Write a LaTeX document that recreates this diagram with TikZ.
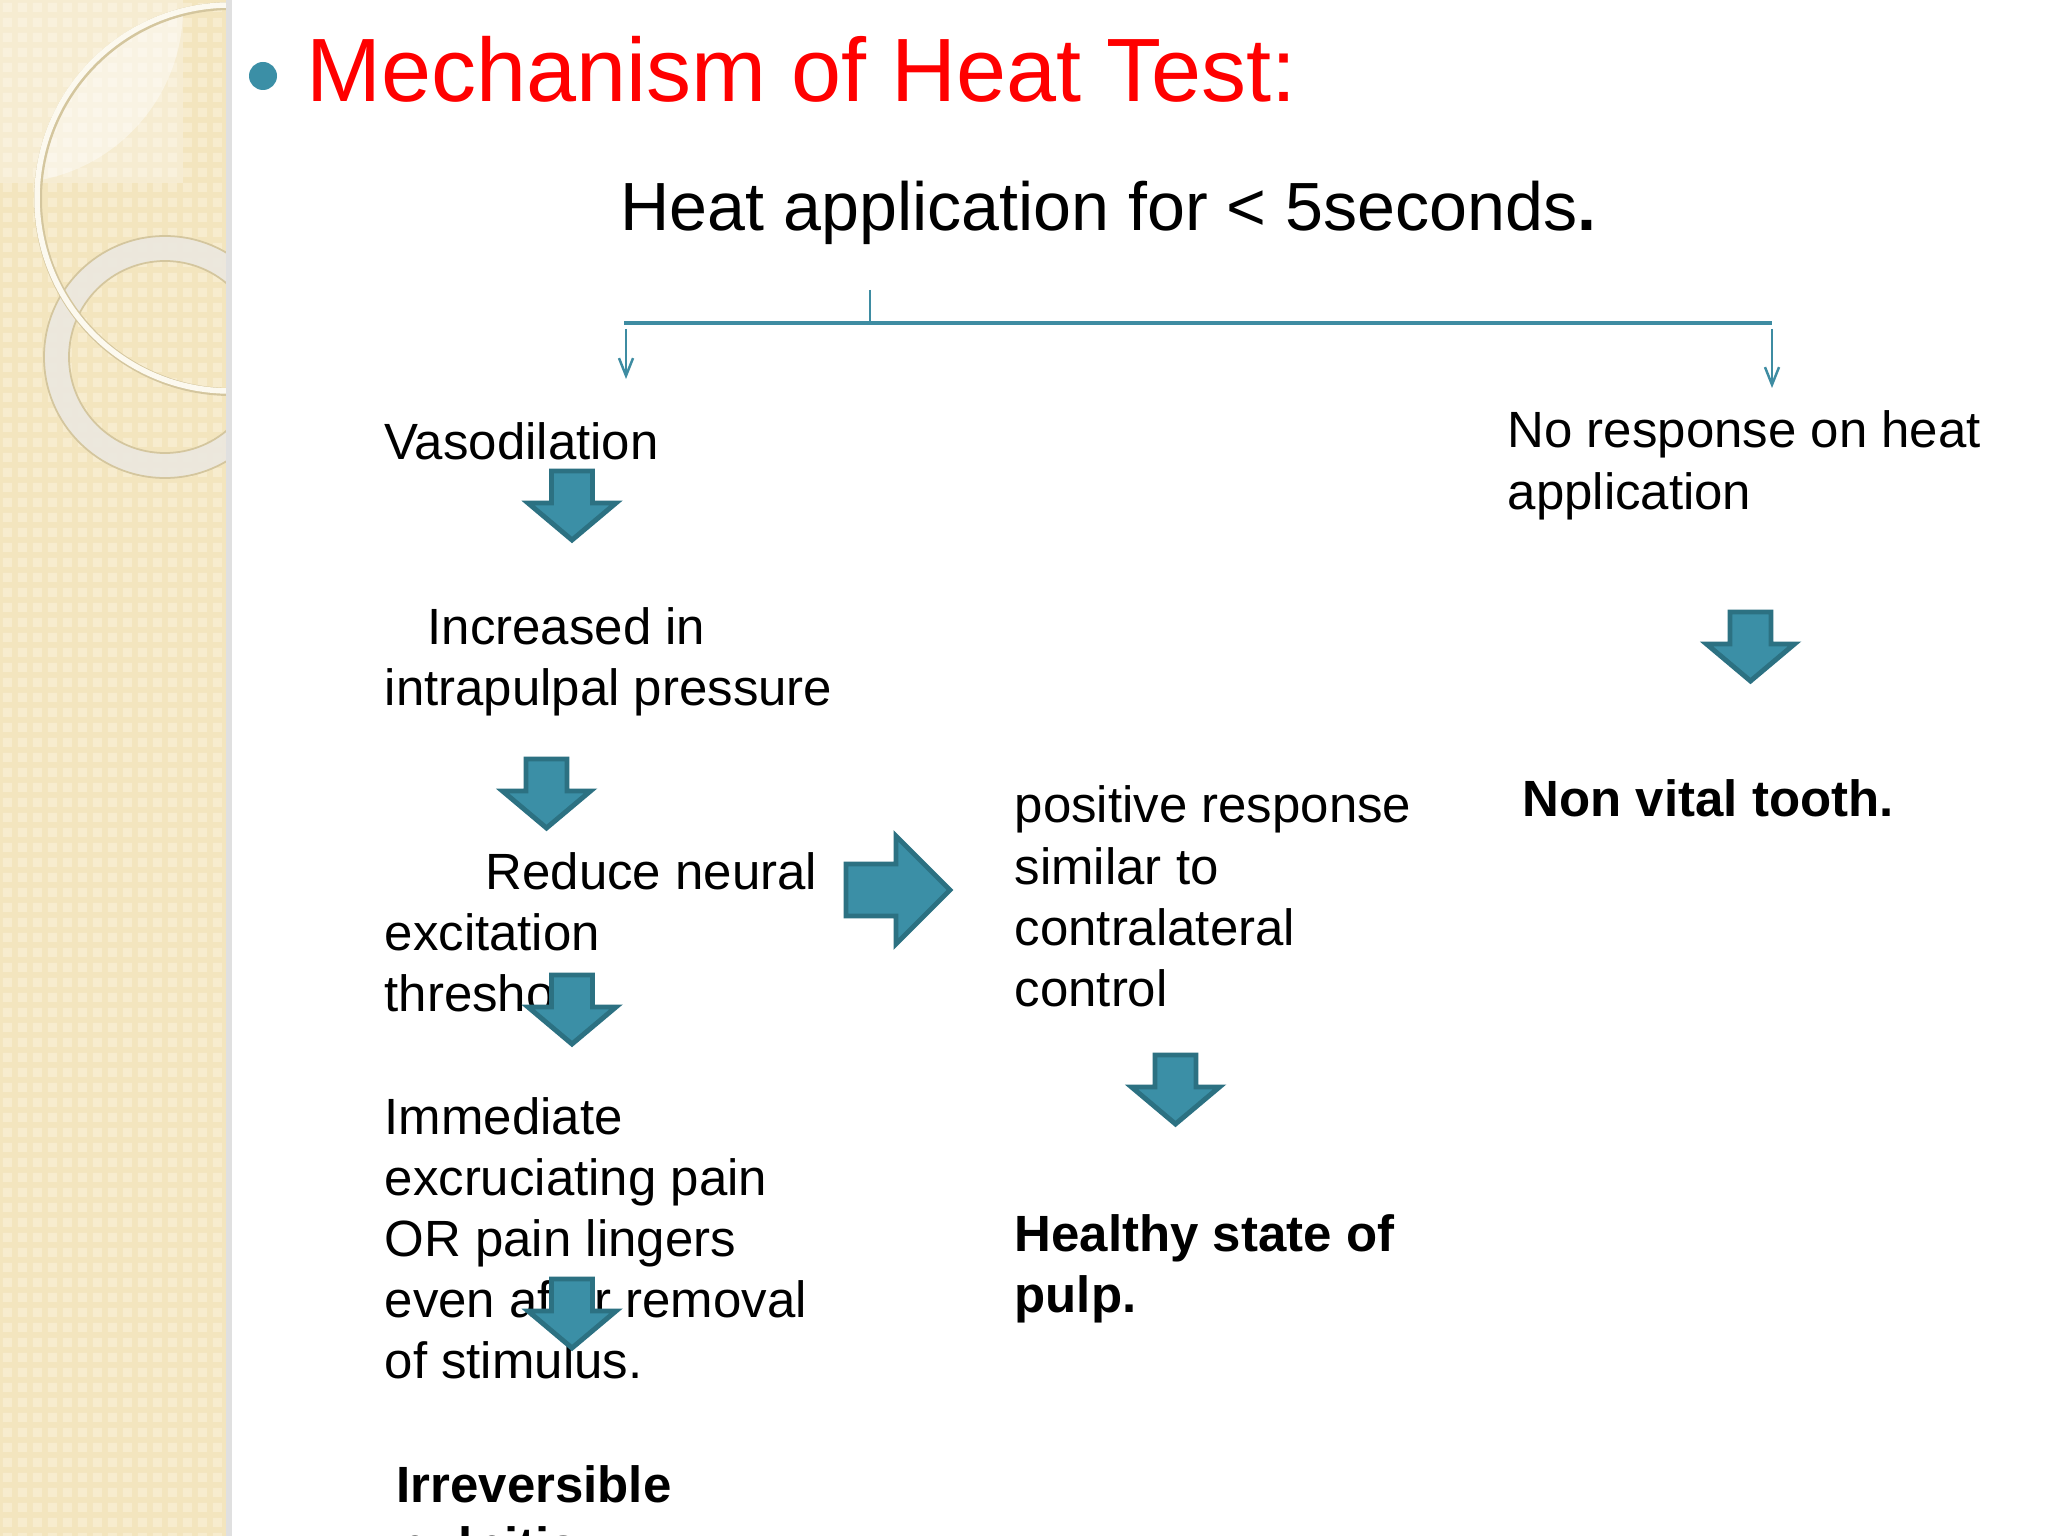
\documentclass[tikz,border=0pt]{standalone}
\usepackage{fontspec}
\setmainfont{Liberation Sans}
\usetikzlibrary{arrows.meta}
\definecolor{myteal}{RGB}{59,143,166}
\definecolor{mydark}{RGB}{44,113,130}
\definecolor{myline}{RGB}{62,140,162}
\definecolor{mysand}{RGB}{243,229,190}
\definecolor{mysandlt}{RGB}{247,236,206}
\definecolor{myring}{RGB}{236,232,222}
\definecolor{myedge}{RGB}{212,198,158}
\newcommand\mytxt[1]{%
  \parbox[t]{8cm}{\raggedright\fontsize{14.5}{17.4}\selectfont #1}%
}

\begin{document}
\begin{tikzpicture}[x=1cm,y=1cm,>={Straight Barb[length=5pt,width=4pt]}]
  \useasboundingbox (0,0) rectangle (20.48,-15.36);
  \fill[white] (0,0) rectangle (20.48,-15.36);

  \tikzstyle{txt}=[anchor=base west,inner sep=0pt]
  \tikzstyle{conn}=[myline,line width=0.7pt]
  \tikzstyle{blockarrow}=[fill=myteal,draw=mydark,line width=1.4pt,line join=miter]
  \tikzset{
    downarr/.pic={\path[blockarrow] (-0.205,-0.02) -- (0.205,-0.02) -- (0.205,-0.34)
      -- (0.44,-0.34) -- (0,-0.71) -- (-0.44,-0.34) -- (-0.205,-0.34) -- cycle;},
    rightarr/.pic={\path[blockarrow] (0.02,0.26) -- (0.52,0.26) -- (0.52,0.54)
      -- (1.06,0) -- (0.52,-0.54) -- (0.52,-0.26) -- (0.02,-0.26) -- cycle;}
  }

  % side bar
  \begin{scope}
    \clip (0,0) rectangle (2.26,-15.36);
    \fill[mysand] (0,0) rectangle (2.26,-15.36);
    \fill[mysandlt] \foreach \i in {0,...,15} {\foreach \j in {0,...,103}
      {(\i*0.15+0.03,-\j*0.15-0.03) rectangle ++(0.09,-0.09)}};
    \fill[white,opacity=0.3] (0,0) rectangle (1.83,-1.83);
    \begin{scope}
      \clip (0.08,-0.08) circle (1.75);
      \fill[white,opacity=0.4] (2.30,-1.98) circle (1.93);
    \end{scope}
    \draw[myring,line width=0.25cm,opacity=0.95] (1.65,-3.57) circle (1.085);
    \draw[myedge,line width=0.5pt] (1.65,-3.57) circle (0.96);
    \draw[myedge,line width=0.5pt] (1.65,-3.57) circle (1.21);
    \draw[myedge,line width=0.08cm] (2.31,-1.99) circle (1.93);
    \draw[white!75!mysand,line width=0.055cm] (2.30,-1.98) circle (1.93);
  \end{scope}
  \draw[black!12,line width=0.06cm] (2.29,0) -- (2.29,-15.36);

  % title
  \node[circle,fill=myteal,minimum size=0.28cm,inner sep=0pt] (bullet) at (2.63,-0.76) {};
  \node[txt,text=red,font=\fontsize{25.6}{30}\selectfont] (title) at (3.06,-1.02) {Mechanism of Heat Test:};
  \node[txt,font=\fontsize{19.4}{23}\selectfont] (heat) at (6.20,-2.31) {Heat application for < 5seconds\textbf{.}};

  % left branch
  \node[txt] (vaso) at (3.84,-4.60) {\mytxt{Vasodilation}};
  \node[txt] (press) at (3.84,-6.44) {\mytxt{\hspace*{0.43cm}Increased in\\intrapulpal pressure}};
  \node[txt] (neural) at (3.84,-8.89) {\mytxt{\hspace*{1.01cm}Reduce neural\\excitation\\threshold}};
  \node[txt] (pain) at (3.84,-11.34) {\mytxt{Immediate\\excruciating pain\\OR pain lingers\\even after removal\\of stimulus.}};
  \node[txt] (irrev) at (3.96,-15.02) {\mytxt{\bfseries Irreversible\\pulpitis.}};

  % middle
  \node[txt] (posresp) at (10.14,-8.23) {\mytxt{positive response\\similar to\\contralateral\\control}};
  \node[txt] (healthy) at (10.14,-12.51) {\mytxt{\bfseries Healthy state of\\pulp.}};

  % right branch
  \node[txt] (noresp) at (15.07,-4.48) {\mytxt{No response on heat\\application}};
  \node[txt] (nonvital) at (15.22,-8.16) {\mytxt{\bfseries Non vital tooth.}};

  % split connectors
  \coordinate (split) at (8.70,-2.90);
  \coordinate (fork) at (8.70,-3.23);
  \coordinate (forkL) at (6.24,-3.23);
  \coordinate (forkR) at (17.72,-3.23);
  \coordinate (vasoOut) at (6.26,-3.29);
  \coordinate (vasoIn) at (6.26,-3.79);
  \coordinate (norespOut) at (17.72,-3.29);
  \coordinate (norespIn) at (17.72,-3.88);
  \draw[conn] (split) -- (fork);
  \draw[conn,line width=0.9pt] (forkL) -- (forkR);
  \draw[conn,->] (vasoOut) -- (vasoIn);
  \draw[conn,->] (norespOut) -- (norespIn);

  % block arrows
  \foreach \name/\x/\y in {arrA/5.72/-4.69, arrB/5.465/-7.57, arrC/5.72/-9.73,
      arrD/5.72/-12.77, arrE/11.755/-10.53, arrF/17.505/-6.10}
    \pic (\name) at (\x,\y) {downarr};
  \pic (arrR) at (8.44,-8.90) {rightarr};

\end{tikzpicture}
\end{document}
